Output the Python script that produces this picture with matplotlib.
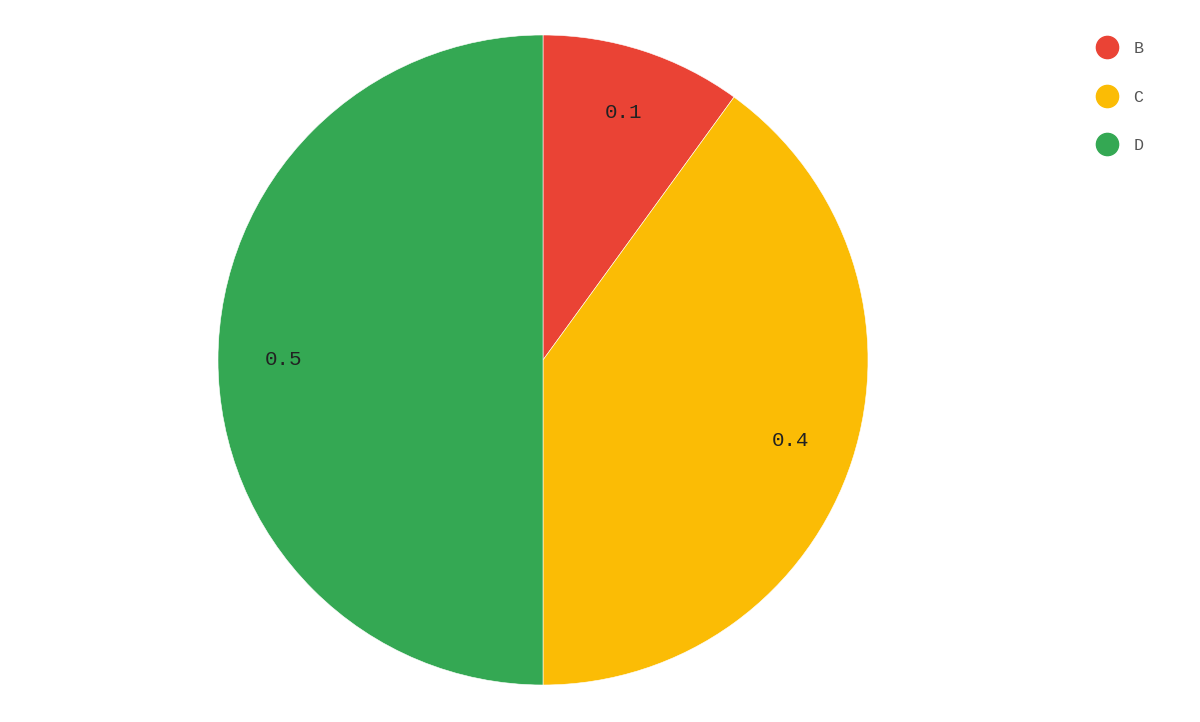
import matplotlib
matplotlib.use("Agg")
import matplotlib.pyplot as plt
from matplotlib.lines import Line2D

categories = ["B", "C", "D"]
values = [0.1, 0.4, 0.5]
colors = ["#EA4335", "#FBBC05", "#34A853"]
value_labels = ["0.1", "0.4", "0.5"]

W, H = 1200, 722
fig = plt.figure(figsize=(W / 100, H / 100), dpi=100)
cx, cy, r = 543, 360, 325
ax = fig.add_axes([(cx - r) / W, (H - cy - r) / H, 2 * r / W, 2 * r / H])
wedges, texts = ax.pie(values, colors=colors, startangle=90, counterclock=False,
                       labels=value_labels, labeldistance=0.8,
                       wedgeprops=dict(linewidth=0.4, edgecolor="white"),
                       textprops=dict(family="Liberation Mono", fontsize=15, color="#222222"))
for t in texts:
    t.set_ha("center")
    t.set_va("center")
ax.set_xlim(-1, 1)
ax.set_ylim(-1, 1)
ax.set_aspect("equal")
ax.axis("off")

handles = [Line2D([], [], marker="o", linestyle="", markersize=16, markerfacecolor=c,
                  markeredgecolor=c) for c in colors]
leg = fig.legend(handles, categories, loc="upper left", bbox_to_anchor=(1090 / W, 1 - 34 / H),
                 frameon=False, prop=dict(family="Liberation Mono", size=12),
                 labelspacing=2.03, handletextpad=1.0, handlelength=1.2, borderaxespad=0)
for t in leg.get_texts():
    t.set_color("#555555")

fig.savefig("out.png", dpi=100)
